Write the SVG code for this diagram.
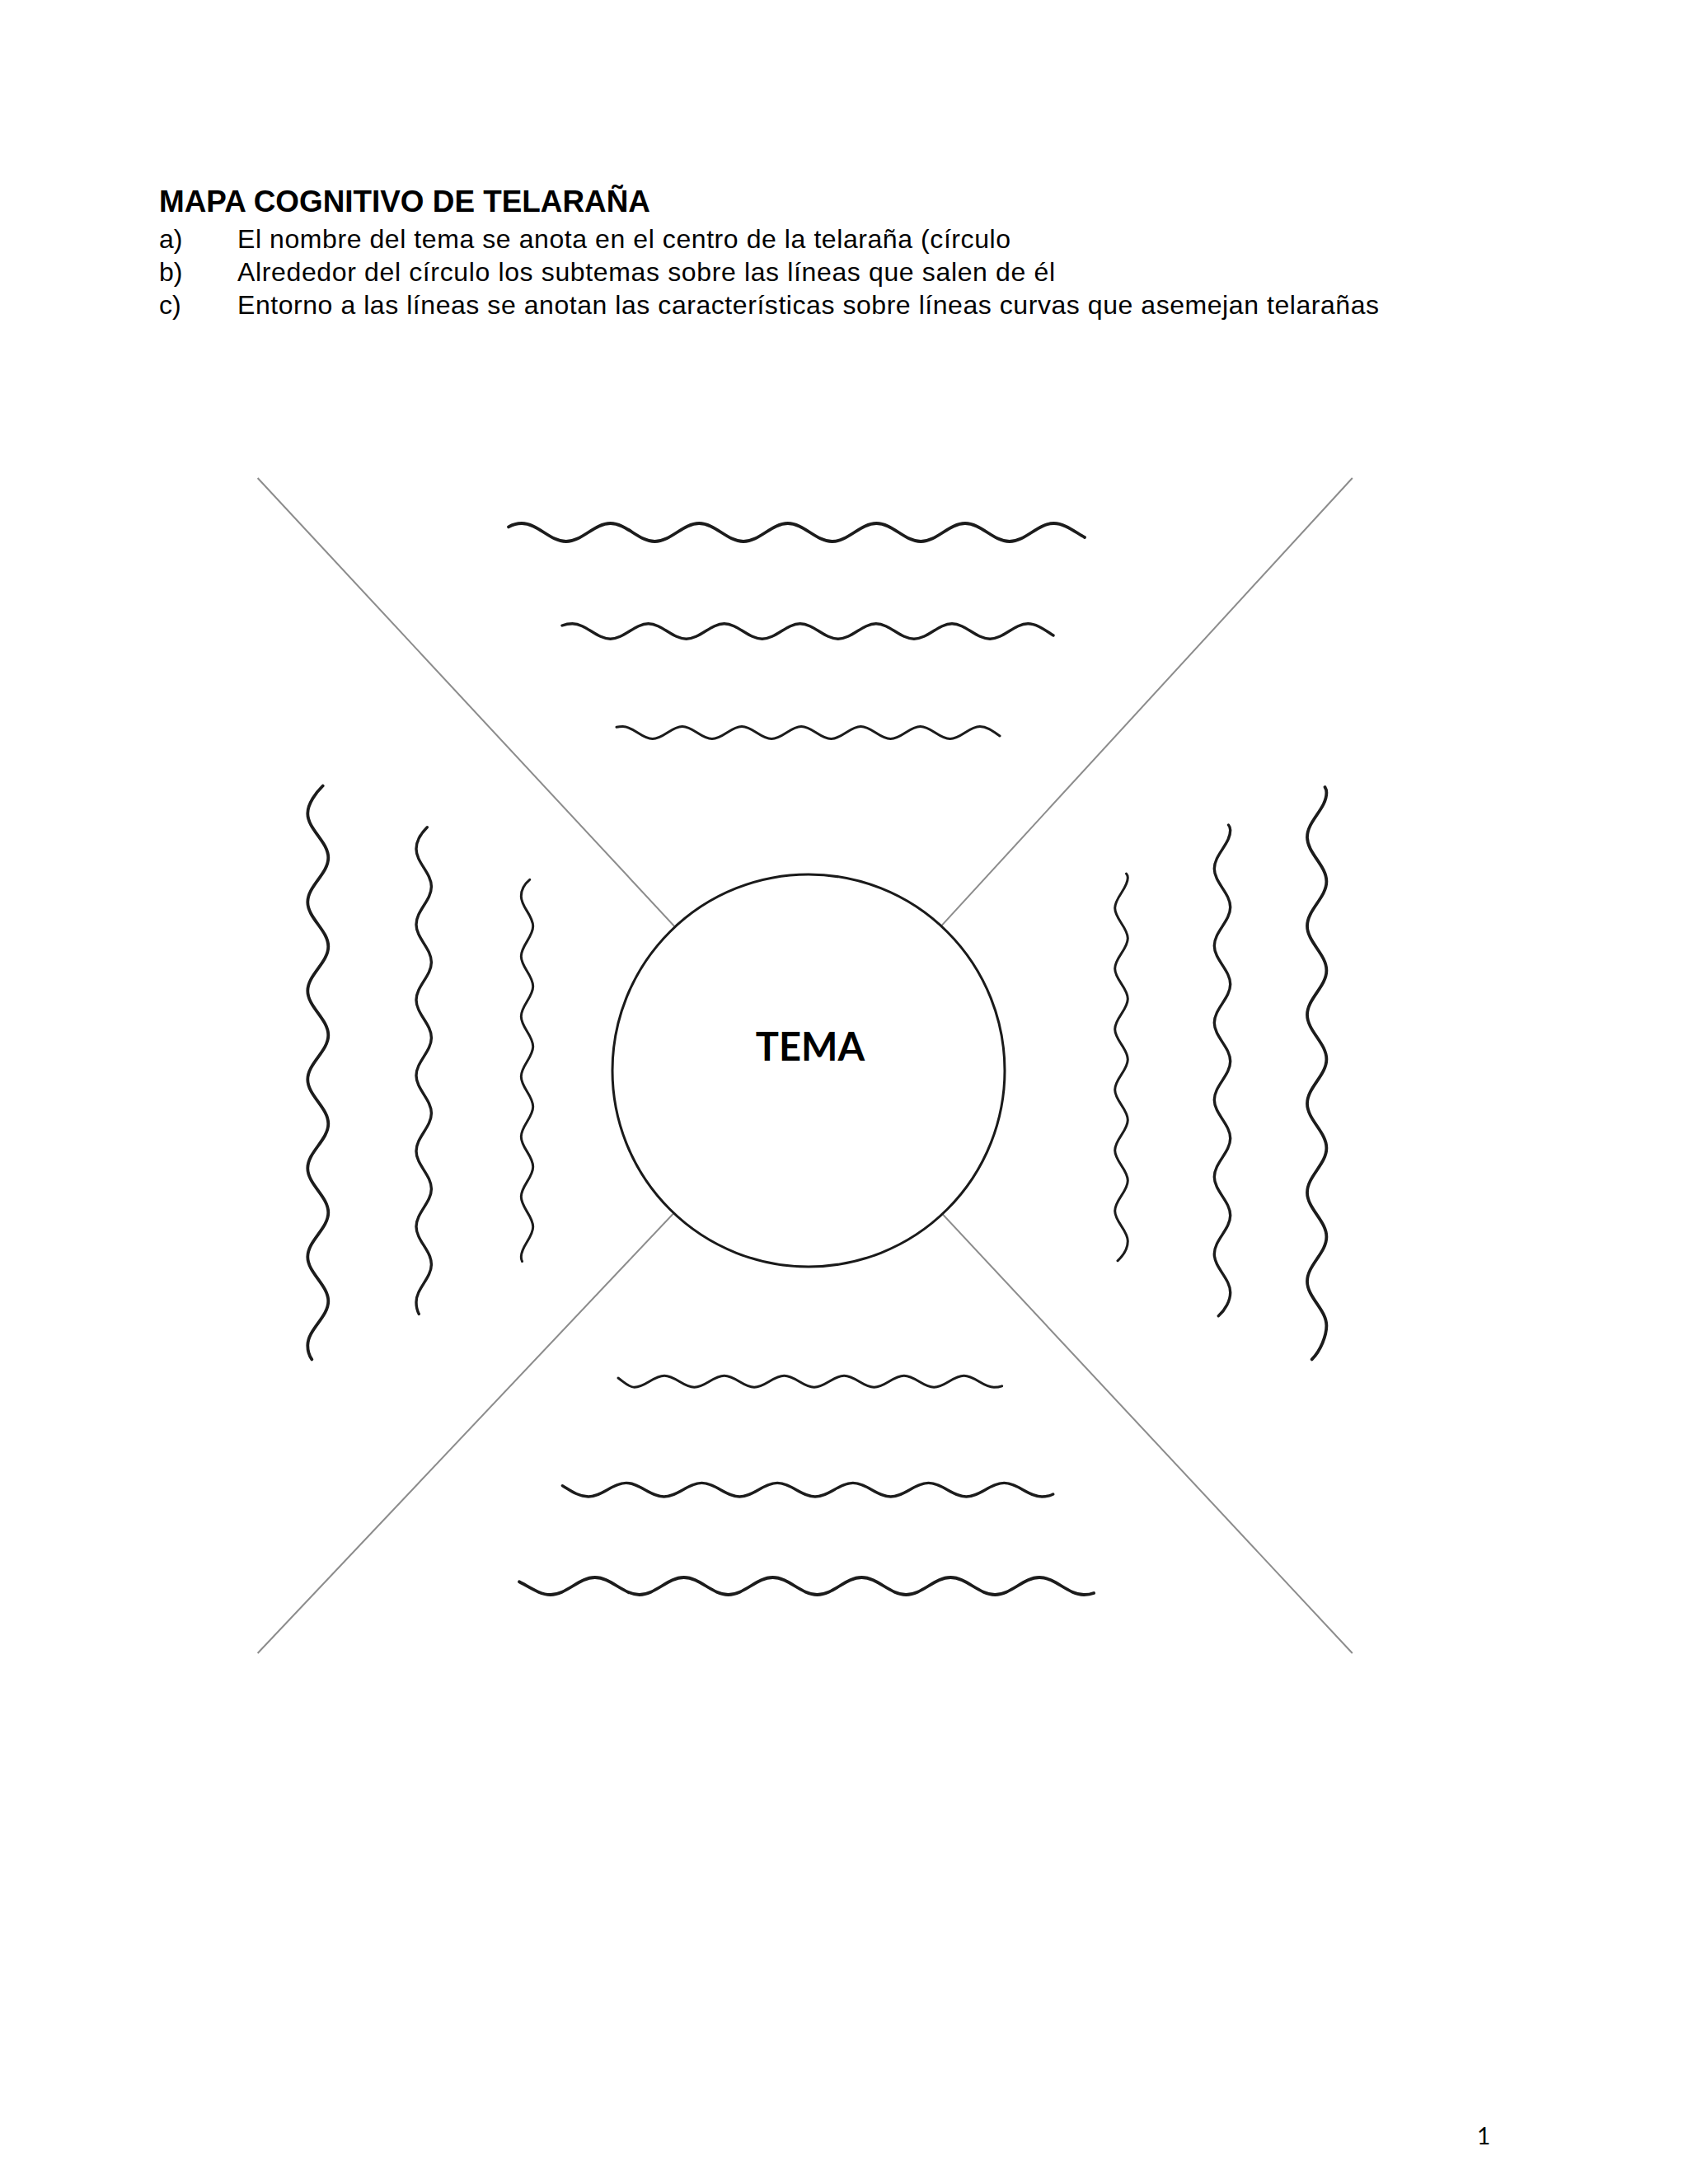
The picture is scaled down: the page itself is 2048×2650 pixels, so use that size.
<svg xmlns="http://www.w3.org/2000/svg" width="2048" height="2650" viewBox="0 0 2048 2650">
<style>
.hdr{font-family:"Liberation Sans",Arial,sans-serif;fill:#000}
.title{font-size:37px;font-weight:bold}
.body{font-size:32px}
.spoke{stroke:#8c8c8c;stroke-width:2;fill:none}
.wave{fill:none;stroke:#1c1c1c;stroke-linecap:round;stroke-linejoin:round}
.w1{stroke-width:3.8}
.w2{stroke-width:3.4}
.w3{stroke-width:3}
.cal{font-family:Lato,"Open Sans",sans-serif;fill:#000}
</style>
<rect width="2048" height="2650" fill="#fff"/>
<g id="header" class="hdr">
<text class="title" x="193" y="257" textLength="596" lengthAdjust="spacingAndGlyphs">MAPA COGNITIVO DE TELARAÑA</text>
<text class="body" x="193" y="301">a)</text>
<text class="body" x="288" y="301" textLength="938" lengthAdjust="spacing">El nombre del tema se anota en el centro de la telaraña (círculo</text>
<text class="body" x="193" y="341">b)</text>
<text class="body" x="288" y="341" textLength="992" lengthAdjust="spacing">Alrededor del círculo los subtemas sobre las líneas que salen de él</text>
<text class="body" x="193" y="381">c)</text>
<text class="body" x="288" y="381" textLength="1385" lengthAdjust="spacing">Entorno a las líneas se anotan las características sobre líneas curvas que asemejan telarañas</text>
</g>
<g id="connectors">
<line class="spoke" x1="312.6" y1="580" x2="981" y2="1299"/>
<line class="spoke" x1="1640.8" y1="580" x2="981" y2="1299"/>
<line class="spoke" x1="312.6" y1="2006" x2="981" y2="1299"/>
<line class="spoke" x1="1640.8" y1="2006" x2="981" y2="1299"/>
</g>
<g id="tema">
<circle cx="981" cy="1299" r="238" fill="#fff" stroke="#1a1a1a" stroke-width="3"/>
<text class="cal" x="983" y="1287" font-size="47" font-weight="bold" text-anchor="middle">TEMA</text>
</g>
<g id="waves-top">
<path class="wave w1" d="M617,639.4 C622,636.5 627,635 633,635 c19.55,0 34.25,22 53.8,22 s34.25,-22 53.8,-22 s34.25,22 53.8,22 s34.25,-22 53.8,-22 s34.25,22 53.8,22 s34.25,-22 53.8,-22 s34.25,22 53.8,22 s34.25,-22 53.8,-22 s34.25,22 53.8,22 s34.25,-22 53.8,-22 s34.25,22 53.8,22 s34.25,-22 53.8,-22 c13,0 25,10 37.4,17"/>
<path class="wave w2" d="M682,759 C686,757.5 690,756.8 694.5,756.8 c16.73,0 29.32,18.4 46.05,18.4 s29.32,-18.4 46.05,-18.4 s29.32,18.4 46.05,18.4 s29.32,-18.4 46.05,-18.4 s29.32,18.4 46.05,18.4 s29.32,-18.4 46.05,-18.4 s29.32,18.4 46.05,18.4 s29.32,-18.4 46.05,-18.4 s29.32,18.4 46.05,18.4 s29.32,-18.4 46.05,-18.4 s29.32,18.4 46.05,18.4 s29.32,-18.4 46.05,-18.4 c11,0 21,8 30.9,14.2"/>
<path class="wave w3" d="M748,882.2 C751,881.6 753,881.5 755.6,881.5 c13.12,0 22.98,15 36.1,15 s22.98,-15 36.1,-15 s22.98,15 36.1,15 s22.98,-15 36.1,-15 s22.98,15 36.1,15 s22.98,-15 36.1,-15 s22.98,15 36.1,15 s22.98,-15 36.1,-15 s22.98,15 36.1,15 s22.98,-15 36.1,-15 s22.98,15 36.1,15 s22.98,-15 36.1,-15 c9,0 17,6.5 24.2,11.5"/>
</g>
<g id="waves-bottom">
<path class="wave w3" d="M750,1672 C757,1677 763,1683.3 769.7,1683.3 c13.21,0 23.14,-14 36.35,-14 s23.14,14 36.35,14 s23.14,-14 36.35,-14 s23.14,14 36.35,14 s23.14,-14 36.35,-14 s23.14,14 36.35,14 s23.14,-14 36.35,-14 s23.14,14 36.35,14 s23.14,-14 36.35,-14 s23.14,14 36.35,14 s23.14,-14 36.35,-14 s23.14,14 36.35,14 c4,0 7,-0.5 9.7,-1.5"/>
<path class="wave w2" d="M682.4,1802.7 C690,1807 701,1816 713.9,1816 c16.66,0 29.19,-16.6 45.85,-16.6 s29.19,16.6 45.85,16.6 s29.19,-16.6 45.85,-16.6 s29.19,16.6 45.85,16.6 s29.19,-16.6 45.85,-16.6 s29.19,16.6 45.85,16.6 s29.19,-16.6 45.85,-16.6 s29.19,16.6 45.85,16.6 s29.19,-16.6 45.85,-16.6 s29.19,16.6 45.85,16.6 s29.19,-16.6 45.85,-16.6 s29.19,16.6 45.85,16.6 c5,0 10,-1.2 13.6,-3"/>
<path class="wave w1" d="M630,1919.3 C643,1926 655,1935 667.9,1935 c19.6,0 34.33,-21 53.93,-21 s34.33,21 53.93,21 s34.33,-21 53.93,-21 s34.33,21 53.93,21 s34.33,-21 53.93,-21 s34.33,21 53.93,21 s34.33,-21 53.93,-21 s34.33,21 53.93,21 s34.33,-21 53.93,-21 s34.33,21 53.93,21 s34.33,-21 53.93,-21 s34.33,21 53.93,21 c5,0 9,-0.8 12,-2"/>
</g>
<g id="waves-left">
<path class="wave w1" d="M391.7,953.5 C384,961 373.3,975 373.3,987 c0,19.55 25,34.25 25,53.8 s-25,34.25 -25,53.8 s25,34.25 25,53.8 s-25,34.25 -25,53.8 s25,34.25 25,53.8 s-25,34.25 -25,53.8 s25,34.25 25,53.8 s-25,34.25 -25,53.8 s25,34.25 25,53.8 s-25,34.25 -25,53.8 s25,34.25 25,53.8 s-25,34.25 -25,53.8 c0,6 1.5,12 5,16.8"/>
<path class="wave w2" d="M518.3,1003.7 C512,1010 505,1019 505,1030 c0,16.66 18.4,29.17 18.4,45.83 s-18.4,29.17 -18.4,45.83 s18.4,29.17 18.4,45.83 s-18.4,29.17 -18.4,45.83 s18.4,29.17 18.4,45.83 s-18.4,29.17 -18.4,45.83 s18.4,29.17 18.4,45.83 s-18.4,29.17 -18.4,45.83 s18.4,29.17 18.4,45.83 s-18.4,29.17 -18.4,45.83 s18.4,29.17 18.4,45.83 s-18.4,29.17 -18.4,45.83 c0,5 1,10 3.3,14.4"/>
<path class="wave w3" d="M642.7,1067.3 C637,1072 632.3,1079 632.3,1087.4 c0,13.25 14.4,23.22 14.4,36.47 s-14.4,23.22 -14.4,36.47 s14.4,23.22 14.4,36.47 s-14.4,23.22 -14.4,36.47 s14.4,23.22 14.4,36.47 s-14.4,23.22 -14.4,36.47 s14.4,23.22 14.4,36.47 s-14.4,23.22 -14.4,36.47 s14.4,23.22 14.4,36.47 s-14.4,23.22 -14.4,36.47 s14.4,23.22 14.4,36.47 s-14.4,23.22 -14.4,36.47 c0,2.5 0.4,4 1.2,5.5"/>
</g>
<g id="waves-right">
<path class="wave w3" d="M1366.5,1060 Q1368.3,1062 1368.3,1065.1 c0,13.35 -15.6,23.39 -15.6,36.74 s15.6,23.39 15.6,36.74 s-15.6,23.39 -15.6,36.74 s15.6,23.39 15.6,36.74 s-15.6,23.39 -15.6,36.74 s15.6,23.39 15.6,36.74 s-15.6,23.39 -15.6,36.74 s15.6,23.39 15.6,36.74 s-15.6,23.39 -15.6,36.74 s15.6,23.39 15.6,36.74 s-15.6,23.39 -15.6,36.74 s15.6,23.39 15.6,36.74 c0,8 -5,17 -12.3,23.8"/>
<path class="wave w2" d="M1490.5,1001 Q1492.7,1003.5 1492.7,1007.2 c0,16.99 -19.4,29.76 -19.4,46.75 s19.4,29.76 19.4,46.75 s-19.4,29.76 -19.4,46.75 s19.4,29.76 19.4,46.75 s-19.4,29.76 -19.4,46.75 s19.4,29.76 19.4,46.75 s-19.4,29.76 -19.4,46.75 s19.4,29.76 19.4,46.75 s-19.4,29.76 -19.4,46.75 s19.4,29.76 19.4,46.75 s-19.4,29.76 -19.4,46.75 s19.4,29.76 19.4,46.75 c0,10 -6,21 -14.4,28.6"/>
<path class="wave w1" d="M1607.5,955 Q1609.4,958 1609.4,961.8 c0,19.59 -23.4,34.31 -23.4,53.9 s23.4,34.31 23.4,53.9 s-23.4,34.31 -23.4,53.9 s23.4,34.31 23.4,53.9 s-23.4,34.31 -23.4,53.9 s23.4,34.31 23.4,53.9 s-23.4,34.31 -23.4,53.9 s23.4,34.31 23.4,53.9 s-23.4,34.31 -23.4,53.9 s23.4,34.31 23.4,53.9 s-23.4,34.31 -23.4,53.9 s23.4,34.31 23.4,53.9 c0,12 -7,30 -17.7,40.8"/>
</g>
<g id="page-number">
<text class="cal" x="1800" y="2602" font-size="28" text-anchor="middle">1</text>
</g>
</svg>
